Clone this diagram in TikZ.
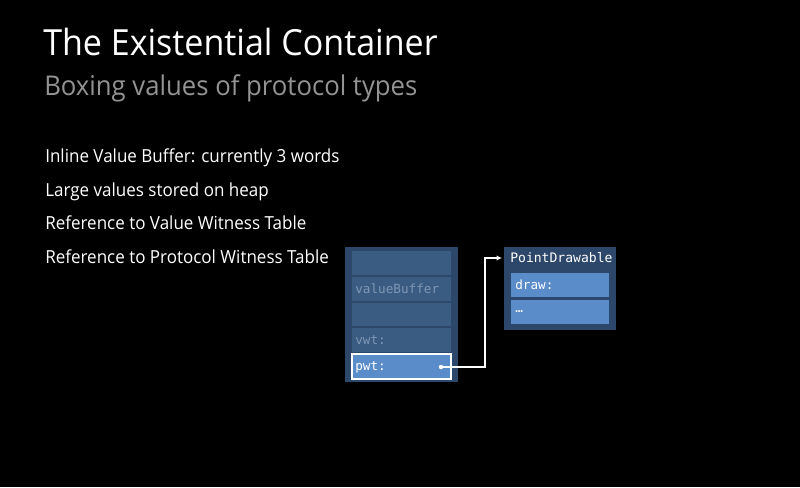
\documentclass[tikz,border=0pt]{standalone}
\usepackage{fontspec}
\usetikzlibrary{arrows.meta}
\setmainfont[FakeStretch=0.945]{Open Sans}
\setmonofont{DejaVu Sans Mono}
\begin{document}
\begin{tikzpicture}[x=0.75pt,y=-0.75pt,
  outer/.style={fill=outerc,draw=none},
  dim/.style={fill=dimc,draw=none},
  bright/.style={fill=brightc,draw=none},
  lbl/.style={anchor=west,font=\ttfamily\fontsize{9.5}{11}\selectfont,inner sep=0},
  txt/.style={anchor=base west,text=white,inner sep=0,font=\fontsize{13.5}{16}\selectfont}]
\definecolor{outerc}{HTML}{2C476A}
\definecolor{dimc}{HTML}{3A5B82}
\definecolor{brightc}{HTML}{5A8CCA}
\definecolor{dimtext}{HTML}{7E97B5}
\fill[black] (0,0) rectangle (800,487);
\node[txt,font=\fontsize{27}{30}\selectfont] (title) at (43,55) {The Existential Container};
\node[txt,text=gray!85,font=\fontsize{20.4}{24}\selectfont] (sub) at (44,95) {Boxing values of protocol types};
\node[txt] (b1) at (45,162) {Inline Value Buffer: currently 3 words};
\node[txt] (b2) at (45,196) {Large values stored on heap};
\node[txt] (b3) at (45,229) {Reference to Value Witness Table};
\node[txt] (b4) at (45,263) {Reference to Protocol Witness Table};
% container
\fill[outer] (345,247) rectangle (458,382);
\fill[dim] (352,251) rectangle (451,275);
\fill[dim] (352,277) rectangle (451,301);
\fill[dim] (352,303) rectangle (451,326);
\fill[dim] (352,328) rectangle (451,352);
\node[lbl,text=dimtext] (vb) at (355,289) {valueBuffer};
\node[lbl,text=dimtext] (vwt) at (355,340) {vwt:};
\draw[fill=brightc,draw=white,line width=1.2pt] (352,354) rectangle (451,379);
\node[lbl,text=white] (pwt) at (355,367) {pwt:};
\coordinate (dot) at (441,367);
% table
\fill[outer] (504,247) rectangle (616,330);
\node[lbl,text=white,font=\ttfamily\fontsize{9.8}{12}\selectfont] (pd) at (510,258) {PointDrawable};
\fill[bright] (511,273) rectangle (609,297);
\fill[bright] (511,300) rectangle (609,324);
\node[lbl,text=white] (draw) at (515,285) {draw:};
\node[lbl,text=white] (dots) at (515,312) {…};
\coordinate (tip) at (502,258);
\fill[white] (dot) circle (2.2);
\draw[white,line width=0.8pt,-{Latex[length=4pt,width=4pt]}] (dot) -- (485,367) -- (485,258) -- (tip);
\end{tikzpicture}
\end{document}
